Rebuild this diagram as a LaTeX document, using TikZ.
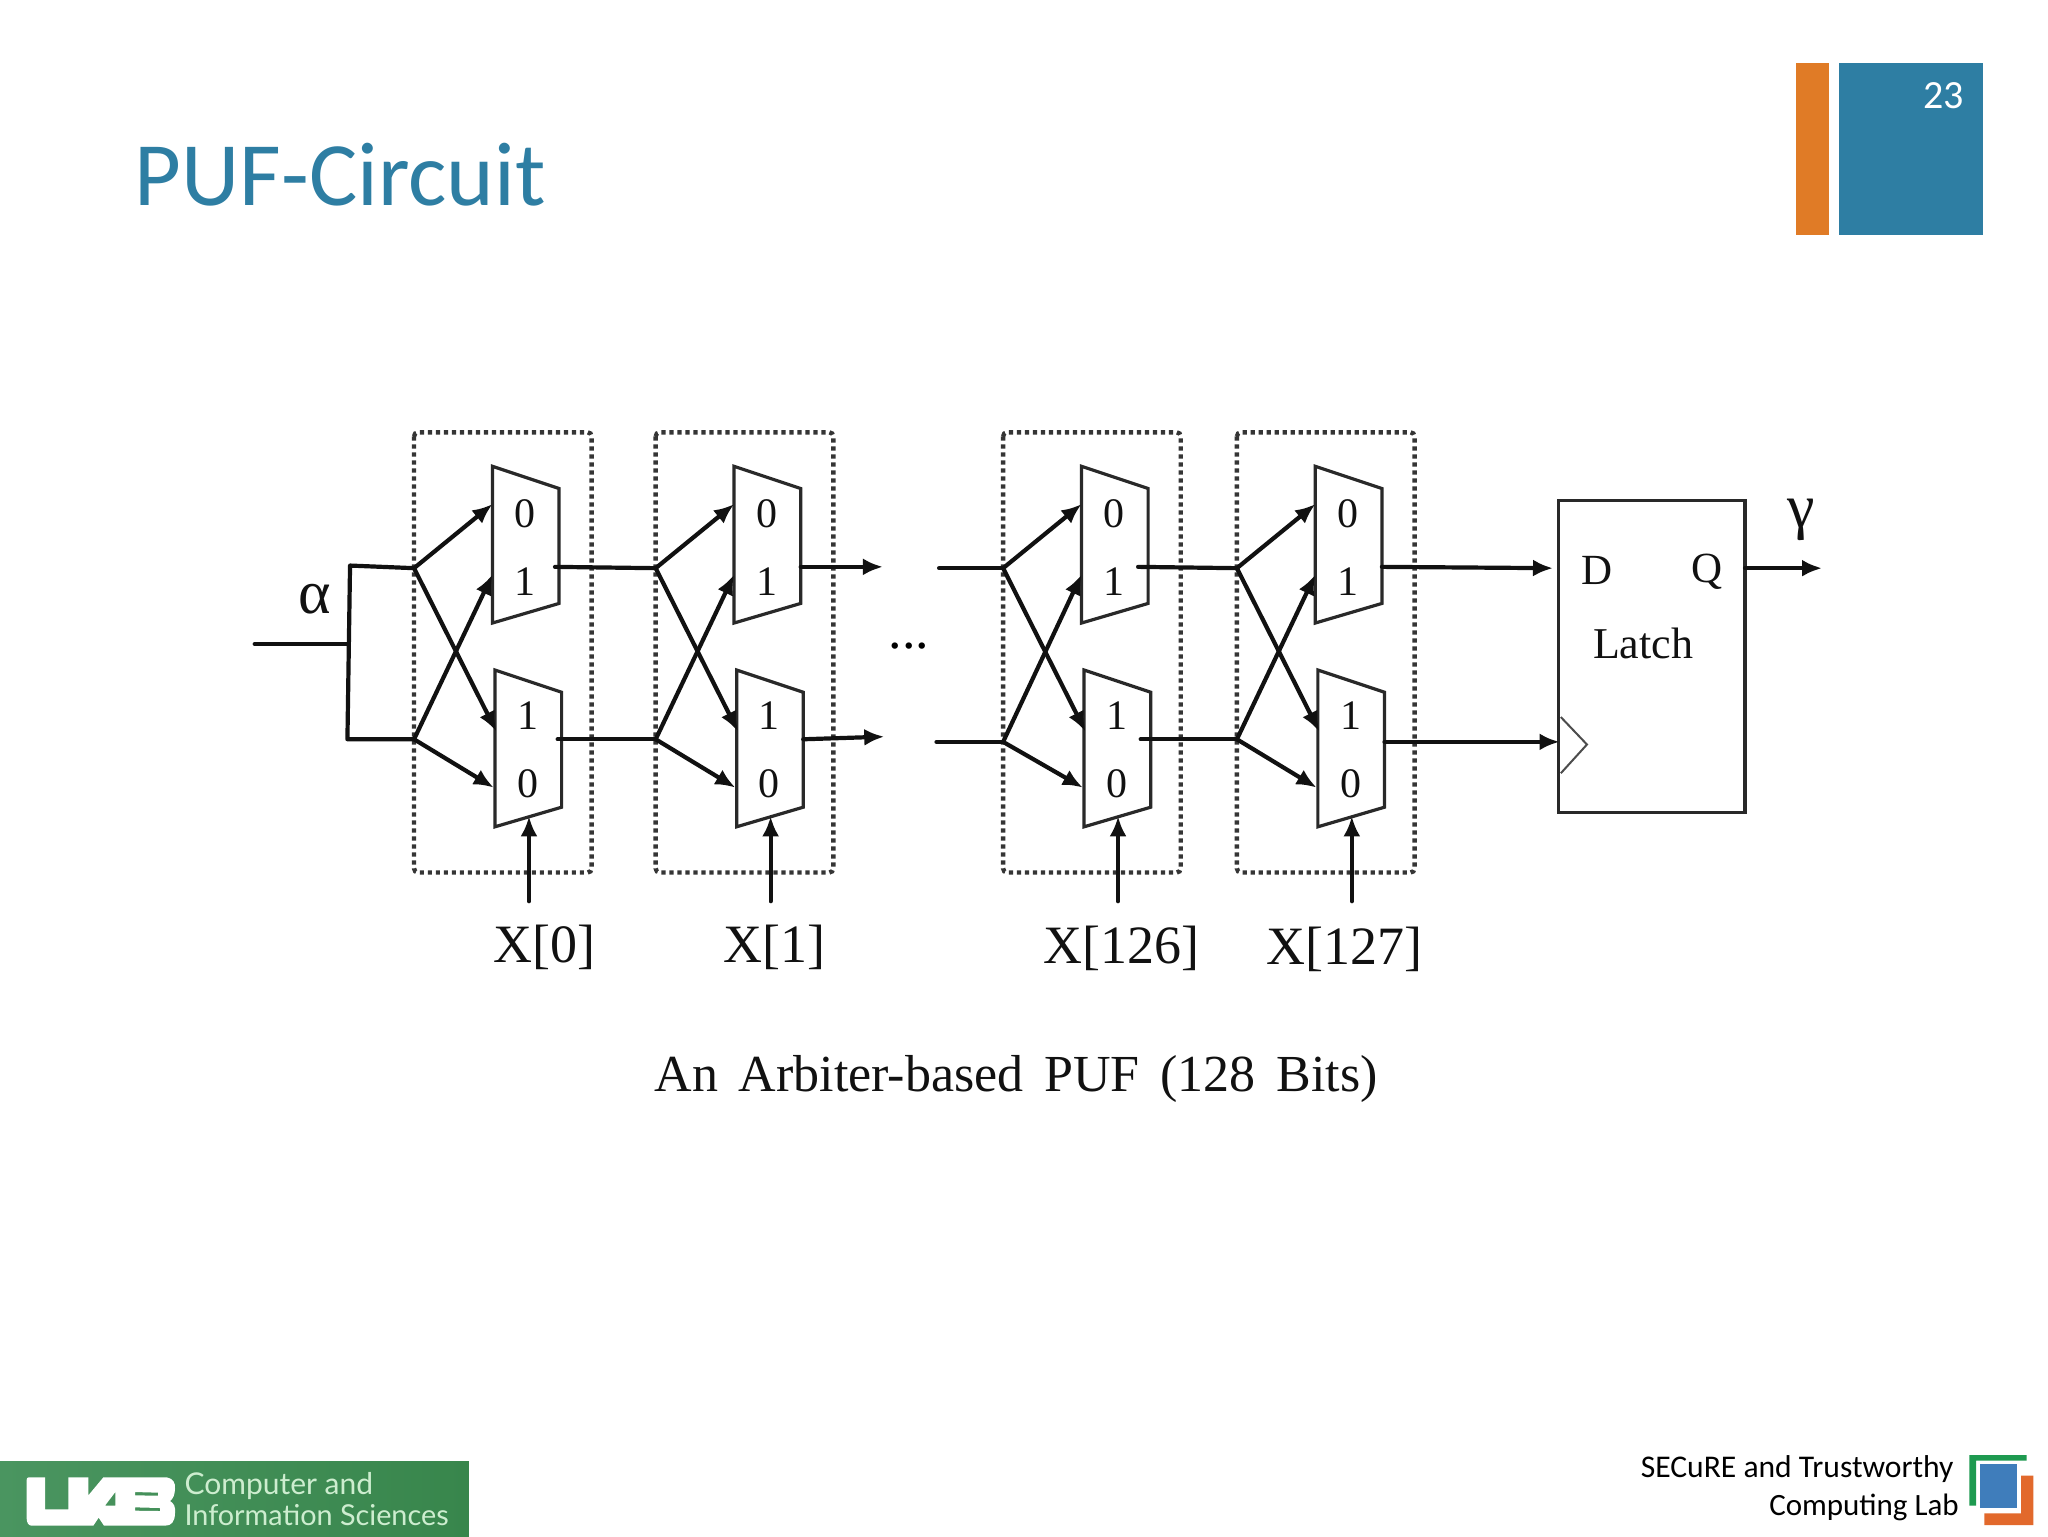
\documentclass[tikz,border=0pt]{standalone}
\usepackage{fontspec}
\setmainfont{Liberation Serif}
\newfontfamily\slidefont{Carlito}
\newfontfamily\logofont{Lato}
\usetikzlibrary{arrows.meta,calc}
\definecolor{slideblue}{HTML}{2E7EA3}
\definecolor{slideorange}{HTML}{E07B26}
\definecolor{uabgreen}{HTML}{38864C}
\definecolor{uablight}{HTML}{4A9560}
\definecolor{logotext}{HTML}{CDEDCF}
\definecolor{ink}{HTML}{111111}
\definecolor{labgreen}{HTML}{1E9A50}
\definecolor{labblue}{HTML}{3F7DBB}
\definecolor{laborange}{HTML}{E2692C}
\tikzset{
  wire/.style={line width=2.1pt,draw=ink,line cap=round},
  arrow/.style={wire,-{Latex[length=10pt,width=8.5pt]}},
  mux/.style={line width=1.6pt,draw=ink!90,fill=white,line join=miter},
  muxlabel/.style={font=\fontsize{21}{21}\selectfont,text=ink,inner sep=0pt},
  block/.style={draw=ink!85,line width=2.2pt,dash pattern=on 2.1pt off 1.9pt,rounded corners=2pt},
  xlabel/.style={font=\fontsize{27}{27}\selectfont,text=ink,inner sep=0pt},
  latchlabel/.style={font=\fontsize{21.5}{21.5}\selectfont,text=ink,inner sep=0pt},
  greek/.style={font=\fontsize{31}{31}\selectfont,text=ink,inner sep=0pt},
}
\begin{document}
\begin{tikzpicture}[x=0.65306pt,y=-0.65306pt]
\useasboundingbox (0,0) rectangle (1568,1176);
\fill[white] (0,0) rectangle (1568,1176);

% slide furniture
\node[anchor=base west,inner sep=0pt,text=slideblue,font=\slidefont\fontsize{45.3}{45.3}\selectfont] (title) at (103,157) {PUF-Circuit};
\fill[slideorange] (1375,48) rectangle (1400,180);
\fill[slideblue] (1408,48) rectangle (1518,180);
\node[anchor=base east,inner sep=0pt,text=white,font=\slidefont\fontsize{20}{20}\selectfont] (page) at (1504,83) {23};

% blocks: name / x offset / y of lower junction / label position and text
\foreach \k/\dx/\jby/\xl/\xy/\xt in {a/0/566/417/725/{X[0]},b/185/566/593/725/{X[1]},c/451/568/859/726/{X[126]},d/630/566/1029/727/{X[127]}}{
  \begin{scope}[xshift=\dx*0.65306pt]
    \draw[block] (317,331) rectangle (453,668);
    \filldraw[mux] (377,357) -- (428,374) -- (428,462) -- (377,477) -- cycle;
    \filldraw[mux] (379,513) -- (430,530) -- (430,618) -- (379,633) -- cycle;
    \node[muxlabel] at (402,393) {0};
    \node[muxlabel] at (402,445) {1};
    \node[muxlabel] at (404,548) {1};
    \node[muxlabel] at (404,600) {0};
    \coordinate (\k jt) at (317,435);
    \coordinate (\k jb) at (317,\jby);
    \coordinate (\k ot) at (428,434);
    \coordinate (\k ob) at (430,566);
    \coordinate (\k i0) at (377,386);
    \coordinate (\k i1) at (377,440);
    \coordinate (\k i2) at (380,560);
    \coordinate (\k i3) at (378,603);
    \coordinate (\k s) at (405,625);
    \coordinate (\k sb) at (405,690);
    \draw[arrow] (\k jt) -- (\k i0);
    \draw[arrow] (\k jt) -- (\k i2);
    \draw[arrow] (\k jb) -- (\k i1);
    \draw[arrow] (\k jb) -- (\k i3);
    \draw[arrow] (\k sb) -- (\k s);
  \end{scope}
  \node[xlabel] (x\k) at (\xl,\xy) {\xt};
}

% alpha input
\coordinate (in) at (195,493);
\coordinate (inj) at (267,493);
\coordinate (int) at (268,433);
\coordinate (inb) at (266,566);
\draw[wire] (in) -- (inj);
\draw[wire,line join=round] (ajt) -- (int) -- (inb) -- (ajb);
\node[greek] (alpha) at (241,459) {α};

% links between blocks
\draw[wire] ([xshift=-2pt]aot) -- (bjt);
\draw[wire] ([xshift=-2pt]aob) -- (bjb);
\draw[wire] ([xshift=-5pt]cot) -- (djt);
\draw[wire] ([xshift=-5pt]cob) -- (djb);

% block b outputs
\coordinate (bte) at (676,434);
\coordinate (bbe) at (677,564);
\draw[arrow] (bot) -- (bte);
\draw[arrow] (bob) -- (bbe);

% ellipsis
\node[inner sep=0pt,font=\fontsize{27}{27}\selectfont] (dots) at (696,495) {...};

% block c inputs
\coordinate (cti) at (719,435);
\coordinate (cbi) at (717,568);
\draw[wire] (cti) -- (cjt);
\draw[wire] (cbi) -- (cjb);

% latch
\draw[line width=1.7pt,draw=ink!90,fill=white] (1193,383) rectangle (1336,622);
\draw[line width=1pt,draw=ink!75] (1195,549) -- (1215,570) -- (1195,592);
\node[latchlabel] (d) at (1223,437) {D};
\node[latchlabel] (q) at (1307,438) {Q};
\node[latchlabel,font=\fontsize{22}{22}\selectfont] (lt) at (1258,493) {Latch};
\coordinate (lin) at (1189,435);
\coordinate (clk) at (1194,568);
\coordinate (lq) at (1336,435);
\coordinate (lqe) at (1395,435);
\coordinate (dobs) at (1060,568);
\draw[arrow] (dot) -- (lin);
\draw[arrow] (dobs) -- (clk);
\draw[arrow] (lq) -- (lqe);
\node[greek] (gamma) at (1379,398) {γ};

% caption
\node[inner sep=0pt,text=ink,font=\fontsize{26}{26}\selectfont] (cap) at (778,826) {An\hspace{0.15em} Arbiter-based\hspace{0.15em} PUF\hspace{0.15em} (128\hspace{0.15em} Bits)};

% UAB banner
\shade[left color=uablight,right color=uabgreen] (0,1119) rectangle (359,1176);
\begin{scope}[x=0.16667pt,y=-0.16667pt,shift={(5pt,-732.5pt)}]
  \fill[white,even odd rule]
    (50,45) .. controls (50,40) and (52,37) .. (56,37) -- (105,37) -- (105,133) -- (175,133) -- (175,37)
    -- (235,37) -- (235,91) -- (280,37) -- (470,37)
    .. controls (490,40) and (497,55) .. (495,72)
    .. controls (494,90) and (490,100) .. (480,108)
    .. controls (492,115) and (497,125) .. (495,145)
    .. controls (494,170) and (485,182) .. (465,182)
    -- (282,182) -- (266,158) -- (250,182)
    -- (65,182) .. controls (55,182) and (50,172) .. (50,160) -- cycle
    (285,122) -- (316,81) -- (316,122) -- cycle
    (375,81) -- (444,83) -- (444,92) -- (375,91) -- cycle
    (375,127) -- (450,129) -- (450,138) -- (375,137) -- cycle;
\end{scope}
\node[anchor=base west,inner sep=0pt,text=logotext,font=\logofont\fontsize{15}{15}\selectfont] (cis1) at (141,1144) {Computer and};
\node[anchor=base west,inner sep=0pt,text=logotext,font=\logofont\fontsize{14.4}{14.4}\selectfont] (cis2) at (141,1168) {Information Sciences};

% lab footer
\node[anchor=base east,inner sep=0pt,text=black,font=\slidefont\fontsize{15.8}{15.8}\selectfont] (lab1) at (1496,1131) {SECuRE and Trustworthy};
\node[anchor=base east,inner sep=0pt,text=black,font=\slidefont\fontsize{15.5}{15.5}\selectfont] (lab2) at (1500,1160) {Computing Lab};
\begin{scope}[x=0.16667pt,y=-0.16667pt,shift={(800pt,-710pt)}]
  \fill[labgreen] (1108,105) -- (1280,105) -- (1280,122) -- (1128,122) -- (1128,257) -- (1108,257) -- cycle;
  \fill[labblue] (1140,131) rectangle (1250,264);
  \fill[laborange] (1263,167) -- (1300,167) -- (1300,315) -- (1153,315) -- (1153,280) -- (1263,280) -- cycle;
\end{scope}
\end{tikzpicture}
\end{document}
